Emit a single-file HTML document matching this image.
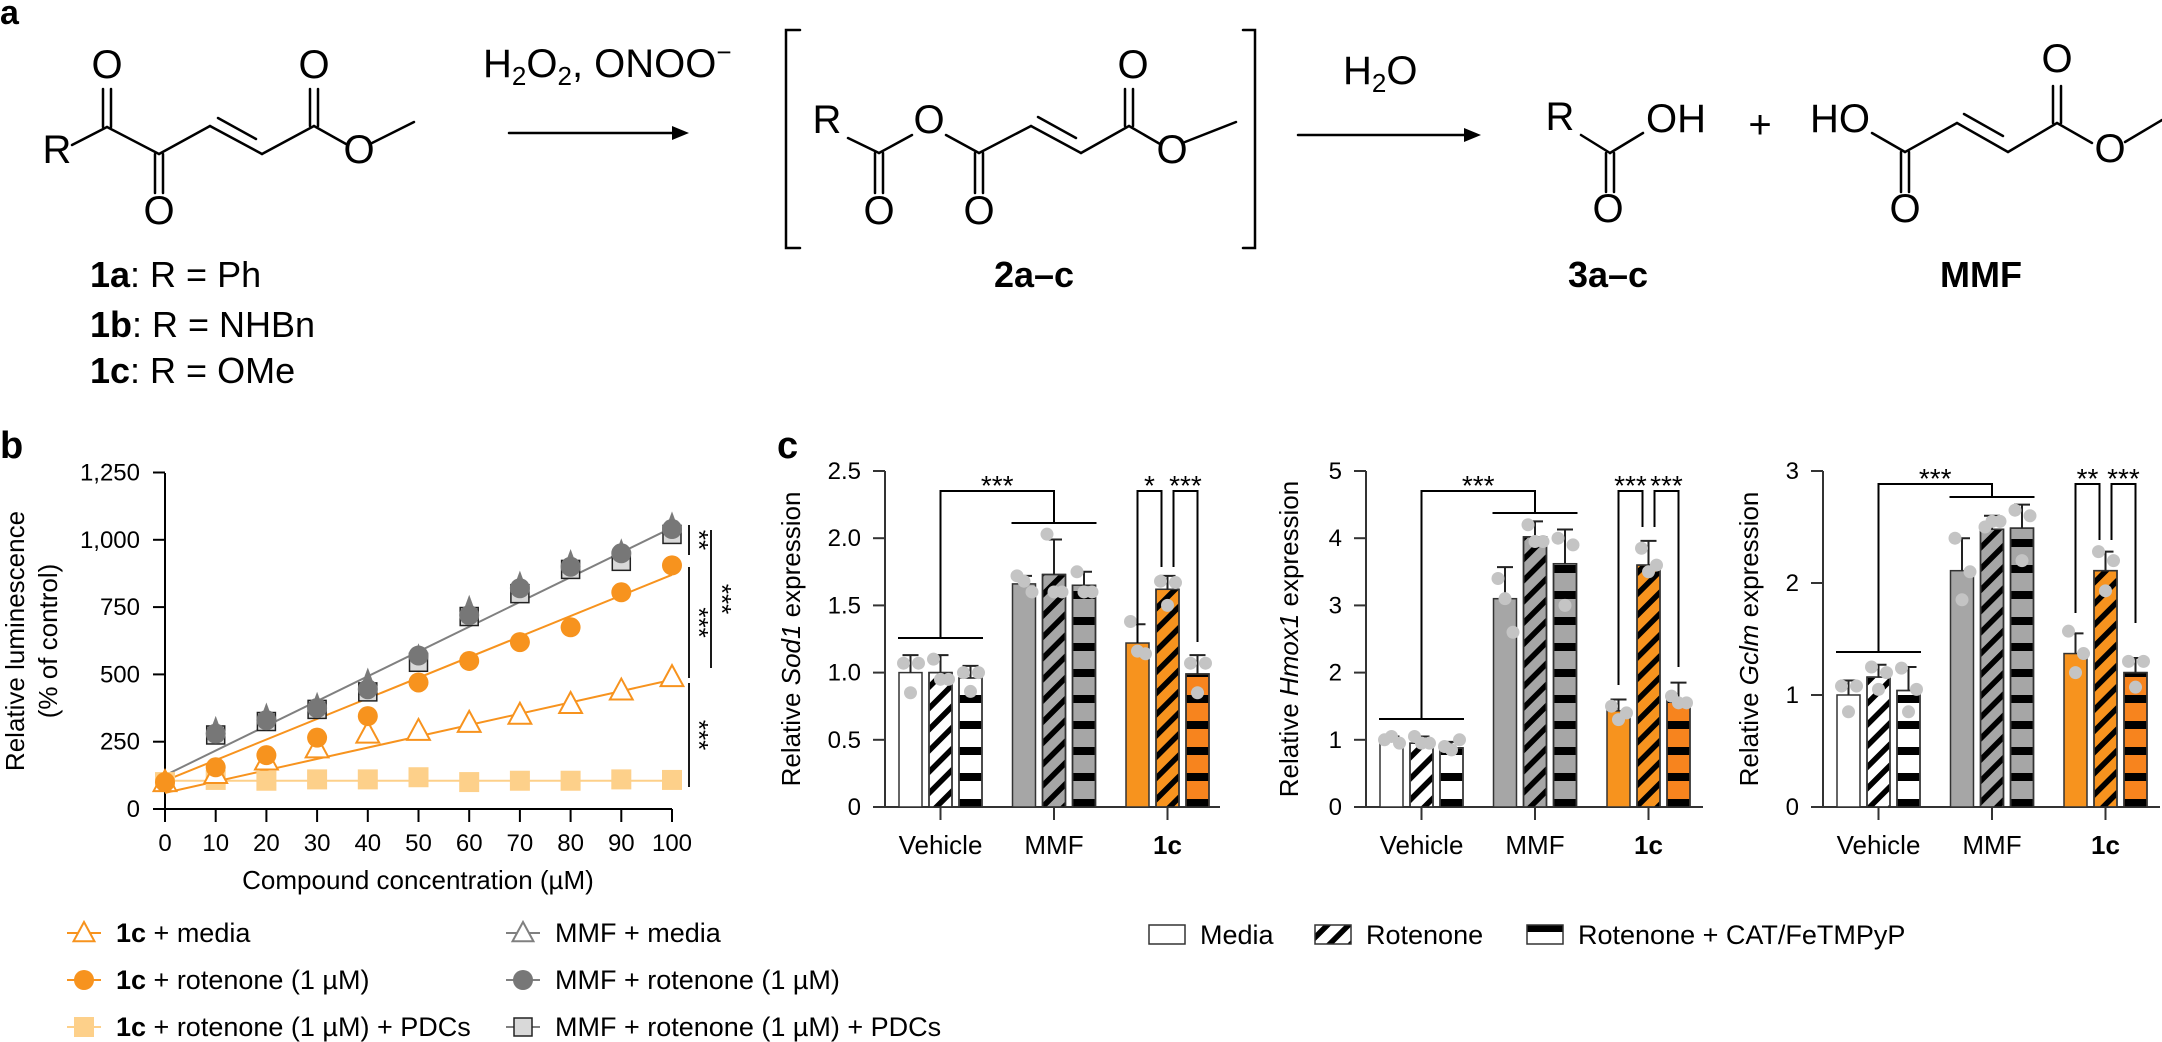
<!DOCTYPE html>
<html><head><meta charset="utf-8">
<style>
html,body{margin:0;padding:0;background:#fff;}
svg{display:block;font-family:"Liberation Sans",Arial,sans-serif;}
</style></head>
<body>
<svg id="fig" width="2162" height="1042" viewBox="0 0 2162 1042" xmlns="http://www.w3.org/2000/svg">
<defs>
<pattern id="diag" patternUnits="userSpaceOnUse" width="15" height="15" patternTransform="rotate(45)"><rect x="0" y="0" width="5.5" height="15" fill="#000"/></pattern>
<pattern id="band" patternUnits="userSpaceOnUse" x="0" y="807" width="40" height="26"><rect x="0" y="18" width="40" height="8" fill="#000"/></pattern>
</defs>

<g stroke="#000" stroke-width="2.5" fill="none" stroke-linecap="round">
<text x="0" y="24" font-size="34" font-weight="bold" stroke="none" fill="#000">a</text>
<g>
<line x1="72" y1="145" x2="107" y2="127"/><line x1="107" y1="127" x2="159" y2="154"/>
<line x1="159" y1="154" x2="210" y2="126"/><line x1="210" y1="126" x2="262" y2="154"/>
<line x1="218" y1="118" x2="256" y2="139"/>
<line x1="262" y1="154" x2="314" y2="126"/>
<line x1="103" y1="127" x2="103" y2="89"/><line x1="111" y1="127" x2="111" y2="89"/>
<line x1="155" y1="154" x2="155" y2="193"/><line x1="163" y1="154" x2="163" y2="193"/>
<line x1="310" y1="126" x2="310" y2="89"/><line x1="318" y1="126" x2="318" y2="89"/>
<line x1="314" y1="126" x2="346" y2="144"/><line x1="372" y1="143" x2="414" y2="122"/>
<g stroke="none" fill="#000" font-size="40" text-anchor="middle">
<text x="57" y="163">R</text><text x="107" y="78">O</text><text x="159" y="224">O</text><text x="314" y="78">O</text><text x="359" y="163">O</text>
</g>
</g>
<g>
<line x1="509" y1="133" x2="676" y2="133"/>
<polygon points="689,133 672,126 672,140" fill="#000" stroke="none"/>
<text x="483" y="77" font-size="40" stroke="none" fill="#000">H<tspan font-size="26" dy="8">2</tspan><tspan dy="-8">O</tspan><tspan font-size="26" dy="8">2</tspan><tspan dy="-8">, ONOO</tspan><tspan font-size="26" dy="-16">−</tspan></text>
</g>
<g>
<polyline points="800,30 786,30 786,248 800,248"/>
<polyline points="1243,30 1255,30 1255,248 1243,248"/>
<line x1="848" y1="138" x2="879" y2="153"/><line x1="879" y1="153" x2="912" y2="135"/>
<line x1="875" y1="153" x2="875" y2="193"/><line x1="883" y1="153" x2="883" y2="193"/>
<line x1="946" y1="135" x2="979" y2="153"/>
<line x1="975" y1="153" x2="975" y2="193"/><line x1="983" y1="153" x2="983" y2="193"/>
<line x1="979" y1="153" x2="1031" y2="126"/><line x1="1031" y1="126" x2="1081" y2="153"/>
<line x1="1038" y1="117" x2="1076" y2="138"/>
<line x1="1081" y1="153" x2="1129" y2="126"/>
<line x1="1125" y1="126" x2="1125" y2="89"/><line x1="1133" y1="126" x2="1133" y2="89"/>
<line x1="1129" y1="126" x2="1160" y2="144"/><line x1="1185" y1="142" x2="1236" y2="122"/>
<g stroke="none" fill="#000" font-size="40" text-anchor="middle">
<text x="827" y="133">R</text><text x="879" y="224">O</text><text x="929" y="133">O</text><text x="979" y="224">O</text><text x="1133" y="78">O</text><text x="1172" y="163">O</text>
</g>
<text x="1034" y="287" font-size="36" font-weight="bold" text-anchor="middle" stroke="none" fill="#000">2a–c</text>
</g>
<g>
<line x1="1298" y1="135" x2="1468" y2="135"/>
<polygon points="1481,135 1464,128 1464,142" fill="#000" stroke="none"/>
<text x="1343" y="84" font-size="40" stroke="none" fill="#000">H<tspan font-size="26" dy="8">2</tspan><tspan dy="-8">O</tspan></text>
</g>
<g>
<line x1="1581" y1="135" x2="1610" y2="153"/><line x1="1610" y1="153" x2="1643" y2="133"/>
<line x1="1606" y1="153" x2="1606" y2="192"/><line x1="1614" y1="153" x2="1614" y2="192"/>
<g stroke="none" fill="#000" font-size="40">
<text x="1560" y="130" text-anchor="middle">R</text><text x="1646" y="132">OH</text><text x="1608" y="222" text-anchor="middle">O</text>
<text x="1760" y="138" text-anchor="middle">+</text>
</g>
<text x="1608" y="287" font-size="36" font-weight="bold" text-anchor="middle" stroke="none" fill="#000">3a–c</text>
</g>
<g>
<line x1="1872" y1="133" x2="1905" y2="152"/>
<line x1="1901" y1="152" x2="1901" y2="192"/><line x1="1909" y1="152" x2="1909" y2="192"/>
<line x1="1905" y1="152" x2="1957" y2="123"/><line x1="1957" y1="123" x2="2008" y2="152"/>
<line x1="1964" y1="114" x2="2003" y2="136"/>
<line x1="2008" y1="152" x2="2057" y2="123"/>
<line x1="2053" y1="123" x2="2053" y2="86"/><line x1="2061" y1="123" x2="2061" y2="86"/>
<line x1="2057" y1="123" x2="2092" y2="143"/><line x1="2125" y1="142" x2="2162" y2="120"/>
<g stroke="none" fill="#000" font-size="40">
<text x="1810" y="132">HO</text><text x="1905" y="222" text-anchor="middle">O</text><text x="2057" y="72" text-anchor="middle">O</text><text x="2110" y="162" text-anchor="middle">O</text>
</g>
<text x="1981" y="287" font-size="36" font-weight="bold" text-anchor="middle" stroke="none" fill="#000">MMF</text>
</g>
<g stroke="none" fill="#000" font-size="36">
<text x="90" y="287"><tspan font-weight="bold">1a</tspan>: R = Ph</text>
<text x="90" y="337"><tspan font-weight="bold">1b</tspan>: R = NHBn</text>
<text x="90" y="383"><tspan font-weight="bold">1c</tspan>: R = OMe</text>
</g>
</g>

<text x="0" y="458" font-size="38" font-weight="bold">b</text>
<text x="777" y="458" font-size="38" font-weight="bold">c</text>
<g id="chartB"></g>
<g id="chartC"></g>
</svg>

<script>
// ---------- Panel b data ----------
const concs = [0,10,20,30,40,50,60,70,80,90,100];
const media1c = [100,130,180,225,280,290,320,350,390,440,490];
const rot1c = [100,155,200,265,345,470,550,620,675,805,905];
const pdc1c = [100,108,105,110,110,118,100,105,105,110,108];
const mediaMMF = [100,290,340,380,470,560,740,830,910,950,1050];
const rotMMF = [100,280,330,375,445,570,720,820,900,950,1040];
const pdcMMF = [100,275,325,370,435,545,715,800,890,920,1020];
const fitMedia1c = [60,480];
const fitRot1c = [105,870];
const fitPdc1c = [105,105];
const fitMMF = [125,1045];
const yTicksB = [0,250,500,750,1000,1250];
const yTickLabelsB = ['0','250','500','750','1,000','1,250'];

// ---------- Panel c data ----------
const groups = ['Vehicle','MMF','1c'];
const sod1Mean = [1.0,1.0,0.96,1.66,1.73,1.65,1.22,1.62,0.99];
const sod1Err = [1.13,1.13,1.05,1.72,1.99,1.75,1.36,1.72,1.13];
const sod1Dots = [[1.07,1.07,0.85],[1.1,0.95,0.95],[1.0,1.0,0.86],[1.72,1.6,1.68],[2.03,1.6,1.6],[1.75,1.6,1.6],[1.38,1.14,1.16],[1.68,1.67,1.5],[1.07,1.07,0.85]];
const hmoxMean = [1.0,0.95,0.88,3.1,4.02,3.62,1.43,3.6,1.6];
const hmoxErr = [1.05,1.05,0.97,3.57,4.25,4.13,1.6,3.96,1.85];
const hmoxDots = [[1.0,0.95,1.05],[1.05,0.95,0.95],[0.9,1.0,0.85],[3.4,2.6,3.1],[4.2,3.95,3.95],[4.0,3.9,3.0],[1.5,1.4,1.3],[3.85,3.6,3.5],[1.65,1.55,1.55]];
const gclmMean = [1.0,1.16,1.04,2.11,2.48,2.49,1.37,2.11,1.2];
const gclmErr = [1.13,1.27,1.25,2.4,2.6,2.7,1.55,2.28,1.33];
const gclmDots = [[1.08,1.08,0.85],[1.25,1.2,1.05],[1.24,1.05,0.85],[2.4,2.1,1.85],[2.5,2.55,2.55],[2.65,2.6,2.2],[1.57,1.37,1.2],[2.28,2.2,1.93],[1.3,1.3,1.07]];
const sod1Ticks = [0,0.5,1.0,1.5,2.0,2.5];
const sod1TickLabels = ['0','0.5','1.0','1.5','2.0','2.5'];
const hmoxTicks = [0,1,2,3,4,5];
const hmoxTickLabels = ['0','1','2','3','4','5'];
const gclmTicks = [0,1,2,3];
const gclmTickLabels = ['0','1','2','3'];

const NS = 'http://www.w3.org/2000/svg';
function mk(tag, attrs, parent){
  const e = document.createElementNS(NS, tag);
  for (const k in attrs) e.setAttribute(k, attrs[k]);
  parent.appendChild(e);
  return e;
}

// ================= Panel b =================
const gb = document.getElementById('chartB');
const xb = v => 165 + v * 5.07;
const yb = v => 809 - v * 0.2692;
let el;
el = mk('line',{x1:165,y1:473,x2:165,y2:809,stroke:'#000','stroke-width':2},gb);


el = mk('line',{x1:165,y1:809,x2:672,y2:809,stroke:'#000','stroke-width':2},gb);


yTicksB.forEach((t,i)=>{
  el = mk('line',{x1:153,y1:yb(t),x2:165,y2:yb(t),stroke:'#000','stroke-width':2},gb);
  
  
  el = mk('text',{x:140,y:yb(t)+8,'font-size':24,'text-anchor':'end'},gb);
  el.textContent = yTickLabelsB[i];
  
  
});
concs.forEach(c=>{
  el = mk('line',{x1:xb(c),y1:809,x2:xb(c),y2:822,stroke:'#000','stroke-width':2},gb);
  
  
  el = mk('text',{x:xb(c),y:851,'font-size':24,'text-anchor':'middle'},gb);
  el.textContent = String(c);
  
  
});
el = mk('text',{x:418,y:889,'font-size':26,'text-anchor':'middle'},gb);
el.textContent = 'Compound concentration (µM)';


el = mk('text',{x:0,y:0,'font-size':26,'text-anchor':'middle',transform:'translate(24,641) rotate(-90)'},gb);
el.textContent = 'Relative luminescence';


el = mk('text',{x:0,y:0,'font-size':26,'text-anchor':'middle',transform:'translate(57,641) rotate(-90)'},gb);
el.textContent = '(% of control)';



function fitLine(fit,color,name){
  const l = mk('line',{x1:xb(0),y1:yb(fit[0]),x2:xb(100),y2:yb(fit[1]),stroke:color,'stroke-width':2},gb);
  
  
}
fitLine(fitPdc1c,'#fdd08a','fit-line-1c-pdc');
fitLine(fitMedia1c,'#f7931e','fit-line-1c-media');
fitLine(fitRot1c,'#f7931e','fit-line-1c-rotenone');
fitLine(fitMMF,'#808080','fit-line-mmf');

function tri(cx,cy,s,fill,stroke,parent){
  return mk('polygon',{points:`${cx},${cy-s} ${cx-s*0.95},${cy+s*0.75} ${cx+s*0.95},${cy+s*0.75}`,fill:fill,stroke:stroke,'stroke-width':2},parent);
}
pdc1c.forEach((v,i)=>{
  el = mk('rect',{x:xb(concs[i])-10,y:yb(v)-10,width:20,height:20,fill:'#fdd08a'},gb);
  
  
});
media1c.forEach((v,i)=>{
  el = tri(xb(concs[i]),yb(v),12,'#fff','#f7931e',gb);
  
  
});
rot1c.forEach((v,i)=>{
  el = mk('circle',{cx:xb(concs[i]),cy:yb(v),r:10,fill:'#f7931e'},gb);
  
  
});
mediaMMF.forEach((v,i)=>{
  if(i===0) return;
  const cx = xb(concs[i]), cy = yb(v);
  el = mk('polygon',{points:`${cx},${cy-15} ${cx-7},${cy+4} ${cx+7},${cy+4}`,fill:'#7a7a7a'},gb);
  
  
});
pdcMMF.forEach((v,i)=>{
  if(i===0) return;
  el = mk('rect',{x:xb(concs[i])-9,y:yb(v)-9,width:18,height:18,fill:'#d9d9d9',stroke:'#222','stroke-width':1.5},gb);
  
  
});
rotMMF.forEach((v,i)=>{
  if(i===0) return;
  el = mk('circle',{cx:xb(concs[i]),cy:yb(v),r:10,fill:'#777'},gb);
  
  
});

const sigB = [[689,525,555,'**',698],[689,567,678,'***',698],[711,530,668,'***',721],[689,683,787,'***',698]];
sigB.forEach(s=>{
  el = mk('line',{x1:s[0],y1:s[1],x2:s[0],y2:s[2],stroke:'#000','stroke-width':1.8},gb);
  
  
  el = mk('text',{x:0,y:0,'font-size':26,'text-anchor':'middle',transform:`translate(${s[4]-8},${(s[1]+s[2])/2}) rotate(90)`},gb);
  el.textContent = s[3];
  
  
});

const legRowsY = [933,980,1027];
const legB = [
  [84,0,'tri-o','1c',' + media'],[84,1,'circ-o','1c',' + rotenone (1 µM)'],[84,2,'sq-o','1c',' + rotenone (1 µM) + PDCs'],
  [523,0,'tri-g','',"MMF + media"],[523,1,'circ-g','',"MMF + rotenone (1 µM)"],[523,2,'sq-g','',"MMF + rotenone (1 µM) + PDCs"]
];
legB.forEach(L=>{
  const g = mk('g',{},gb);
  
  
  const cx=L[0], cy=legRowsY[L[1]], t=L[2];
  const col = t.endsWith('o') ? (t==='sq-o' ? '#fdd08a' : '#f7931e') : '#808080';
  mk('line',{x1:cx-17,y1:cy,x2:cx+17,y2:cy,stroke:col,'stroke-width':2},g);
  if(t==='tri-o') tri(cx,cy,11,'#fff','#f7931e',g);
  if(t==='tri-g') tri(cx,cy,11,'#fff','#808080',g);
  if(t==='circ-o') mk('circle',{cx:cx,cy:cy,r:10,fill:'#f7931e'},g);
  if(t==='circ-g') mk('circle',{cx:cx,cy:cy,r:10,fill:'#777'},g);
  if(t==='sq-o') mk('rect',{x:cx-10,y:cy-10,width:20,height:20,fill:'#fdd08a'},g);
  if(t==='sq-g') mk('rect',{x:cx-9,y:cy-9,width:18,height:18,fill:'#d9d9d9',stroke:'#222','stroke-width':1.5},g);
  const tx = mk('text',{x:cx+32,y:cy+9,'font-size':27},g);
  if(L[3]){ const b = mk('tspan',{'font-weight':'bold'},tx); b.textContent=L[3]; }
  const r = mk('tspan',{},tx); r.textContent = L[4];
});

// ================= Panel c =================
const gc = document.getElementById('chartC');
const charts = [
  {name:'sod1',axisX:885,xEnd:1220,max:2.5,ticks:sod1Ticks,labels:sod1TickLabels,mean:sod1Mean,err:sod1Err,dots:sod1Dots,gene:'Sod1',titleX:800,
   hv:638,hm:523,ht:491,stars:['*','***'],ends:[643,567,642]},
  {name:'hmox1',axisX:1366,xEnd:1703,max:5,ticks:hmoxTicks,labels:hmoxTickLabels,mean:hmoxMean,err:hmoxErr,dots:hmoxDots,gene:'Hmox1',titleX:1298,
   hv:719,hm:513,ht:491,stars:['***','***'],ends:[685,527,667]},
  {name:'gclm',axisX:1823,xEnd:2160,max:3,ticks:gclmTicks,labels:gclmTickLabels,mean:gclmMean,err:gclmErr,dots:gclmDots,gene:'Gclm',titleX:1758,
   hv:652,hm:497,ht:484,stars:['**','***'],ends:[613,540,623]}
];
const baseCols = ['#ffffff','#a6a6a6','#f7931e'];
const bandCol = '#f7841e';
charts.forEach(C=>{
  const g = mk('g',{},gc);
  
  
  const y = v => 807 - v/C.max*336;
  const barX = j => C.axisX + 14 + Math.floor(j/3)*113.5 + (j%3)*30;
  el = mk('line',{x1:C.axisX,y1:471,x2:C.axisX,y2:807,stroke:'#333','stroke-width':2},g);
  
  
  el = mk('line',{x1:C.axisX,y1:807,x2:C.xEnd,y2:807,stroke:'#333','stroke-width':2},g);
  
  
  C.ticks.forEach((t,i)=>{
    el = mk('line',{x1:C.axisX-12,y1:y(t),x2:C.axisX,y2:y(t),stroke:'#333','stroke-width':2},g);
    
    
    el = mk('text',{x:C.axisX-24,y:y(t)+8,'font-size':24,'text-anchor':'end'},g);
    el.textContent = C.labels[i];
    
    
  });
  groups.forEach((gn,k)=>{
    const cx = barX(k*3+1)+11.5;
    el = mk('line',{x1:cx,y1:807,x2:cx,y2:820,stroke:'#333','stroke-width':2},g);
    
    
    el = mk('text',{x:cx,y:854,'font-size':26,'text-anchor':'middle','font-weight':gn==='1c'?'bold':'normal'},g);
    el.textContent = gn;
    
    
  });
  const tt = mk('text',{x:0,y:0,'font-size':26,'text-anchor':'middle',transform:`translate(${C.titleX},639) rotate(-90)`},g);
  
  
  const t1 = mk('tspan',{},tt); t1.textContent='Relative ';
  const t2 = mk('tspan',{'font-style':'italic'},tt); t2.textContent=C.gene;
  const t3 = mk('tspan',{},tt); t3.textContent=' expression';

  C.mean.forEach((v,j)=>{
    const x = barX(j), gi = Math.floor(j/3), ty = j%3;
    const base = (gi===2 && ty===2) ? bandCol : baseCols[gi];
    el = mk('rect',{x:x,y:y(v),width:23,height:807-y(v),fill:base,stroke:'#333','stroke-width':1.5},g);
    
    
    if(ty>0){
      el = mk('rect',{x:x+0.75,y:y(v)+0.75,width:21.5,height:807-y(v)-0.75,fill:ty===1?'url(#diag)':'url(#band)'},g);
      
      
      mk('rect',{x:x,y:y(v),width:23,height:807-y(v),fill:'none',stroke:'#333','stroke-width':1.5},g);
    }
    const cx = x+11.5;
    el = mk('path',{d:`M${cx},${y(v)} V${y(C.err[j])} M${cx-8},${y(C.err[j])} H${cx+8}`,stroke:'#222','stroke-width':2,fill:'none'},g);
    
    
    const offs = [-7,8,0];
    C.dots[j].forEach((d,q)=>{
      el = mk('circle',{cx:cx+offs[q],cy:y(d),r:6.5,fill:'#c4c4c4'},g);
      
      
    });
  });
  const vc = barX(1)+11.5, mc = barX(4)+11.5;
  const sg = mk('g',{stroke:'#000','stroke-width':2,fill:'none'},g);
  
  
  mk('path',{d:`M${barX(0)-1},${C.hv} H${barX(2)+24} M${vc},${C.hv} V${C.ht} H${mc} V${C.hm} M${barX(3)-1},${C.hm} H${barX(5)+24}`},sg);
  const b1 = barX(6)+11.5, b2 = barX(7)+11.5, b3 = barX(8)+11.5;
  mk('path',{d:`M${b1},${C.ends[0]} V${C.ht} H${b2-6} V${C.ends[1]} M${b2+6},${C.ends[1]} V${C.ht} H${b3} V${C.ends[2]}`},sg);
  const st = [[ (vc+mc)/2,'***'],[(b1+b2-6)/2,C.stars[0]],[(b2+6+b3)/2,C.stars[1]]];
  st.forEach(s=>{
    el = mk('text',{x:s[0],y:C.ht+4,'font-size':28,'text-anchor':'middle'},g);
    el.textContent = s[1];
    
    
  });
});

const legC = [[1149,'Media',0],[1315,'Rotenone',1],[1527,'Rotenone + CAT/FeTMPyP',2]];
legC.forEach(L=>{
  const g = mk('g',{},gc);
  
  
  mk('rect',{x:L[0],y:925,width:36,height:19,fill:'#fff'},g);
  if(L[2]===1) mk('rect',{x:L[0],y:925,width:36,height:19,fill:'url(#diag)'},g);
  if(L[2]===2) mk('rect',{x:L[0],y:925,width:36,height:7,fill:'#000'},g);
  mk('rect',{x:L[0],y:925,width:36,height:19,fill:'none',stroke:'#333','stroke-width':1.5},g);
  const t = mk('text',{x:L[0]+51,y:944,'font-size':27},g);
  t.textContent = L[1];
});
</script>
</body></html>
